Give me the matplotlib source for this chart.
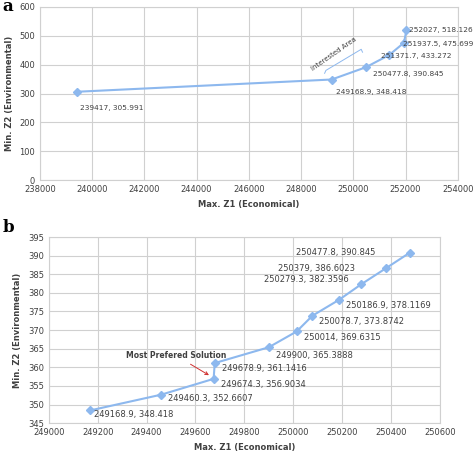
import matplotlib
matplotlib.use("Agg")
import matplotlib.pyplot as plt

a_x = [239417, 249168.9, 250477.8, 251371.7, 251937.5, 252027]
a_y = [305.991, 348.418, 390.845, 433.272, 475.699, 518.126]
a_lab = ["239417, 305.991", "249168.9, 348.418", "250477.8, 390.845",
         "251371.7, 433.272", "251937.5, 475.699", "252027, 518.126"]
a_off = [(2, -12), (3, -9), (5, -5), (-6, -1), (-1, -1), (2, 0)]

b_x = [249168.9, 249460.3, 249674.3, 249678.9, 249900, 250014, 250078.7,
       250186.9, 250279.3, 250379, 250477.8]
b_y = [348.418, 352.6607, 356.9034, 361.1416, 365.3888, 369.6315, 373.8742,
       378.1169, 382.3596, 386.6023, 390.845]
b_lab = ["249168.9, 348.418", "249460.3, 352.6607", "249674.3, 356.9034",
         "249678.9, 361.1416", "249900, 365.3888", "250014, 369.6315",
         "250078.7, 373.8742", "250186.9, 378.1169", "250279.3, 382.3596",
         "250379, 386.6023", "250477.8, 390.845"]
b_off = [(3, -3), (5, -3), (5, -4), (5, -4), (5, -6), (5, -4), (5, -4),
         (5, -4), (-70, 3), (-78, 0), (-82, 0)]

col = "#8db8ee"
tc = "#404040"
fig = plt.figure(figsize=(4.74, 4.55), dpi=100)
ax1 = fig.add_axes([0.084, 0.604, 0.882, 0.381])
ax2 = fig.add_axes([0.103, 0.070, 0.825, 0.409])

def style(ax):
    ax.grid(True, color="#d0d0d0", lw=0.8)
    ax.set_axisbelow(True)
    for s in ax.spines.values():
        s.set_color("#d0d0d0")
    ax.tick_params(length=0, labelsize=6, colors=tc)
    ax.set_xlabel("Max. Z1 (Economical)", fontsize=6, fontweight="bold", color=tc)
    ax.set_ylabel("Min. Z2 (Environmental)", fontsize=6, fontweight="bold", color=tc)

ax1.plot(a_x, a_y, color=col, lw=1.5, marker="D", ms=4)
ax1.set_xlim(238000, 254000); ax1.set_ylim(0, 600)
ax1.set_xticks(range(238000, 254001, 2000)); ax1.set_yticks(range(0, 601, 100))
style(ax1)
for x, y, l, o in zip(a_x, a_y, a_lab, a_off):
    ax1.annotate(l, (x, y), xytext=o, textcoords="offset points", fontsize=5.3,
                 color=tc, va="center", annotation_clip=False)
ax1.text(249250, 437, "Interested Area", rotation=35, fontsize=5, color=tc, ha="center", va="center")
ax1.plot([248900, 248950, 250300, 250350], [370, 380, 453, 443], color=col, lw=0.7)

ax2.plot(b_x, b_y, color=col, lw=1.5, marker="D", ms=4)
ax2.set_xlim(249000, 250600); ax2.set_ylim(345, 395)
ax2.set_xticks(range(249000, 250601, 200)); ax2.set_yticks(range(345, 396, 5))
style(ax2)
for x, y, l, o in zip(b_x, b_y, b_lab, b_off):
    ax2.annotate(l, (x, y), xytext=o, textcoords="offset points", fontsize=6, color=tc, va="center")
ax2.annotate("Most Prefered Solution", (249665, 357.5), xytext=(249520, 362.5),
             fontsize=5.5, fontweight="bold", color=tc, ha="center",
             arrowprops=dict(arrowstyle="->", color="#d03030", lw=0.7))

fig.text(0.005, 0.985, "a", fontsize=12, fontweight="bold", family="DejaVu Serif", va="center")
fig.text(0.005, 0.50, "b", fontsize=12, fontweight="bold", family="DejaVu Serif", va="center")
fig.savefig("out.png", dpi=100)
